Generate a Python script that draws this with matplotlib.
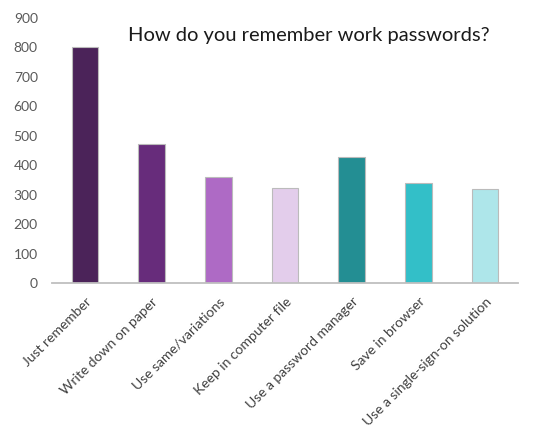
import numpy as np
import matplotlib.pyplot as plt

## Data:
categories = ['Just remember', 'Write down on paper', 'Use same/variations',
              'Keep in computer file', 'Use a password manager', 'Save in browser',
              'Use a single-sign-on solution']
counts = [800, 471, 360, 324, 427, 340, 318]
bar_colors = ['#4B2359', '#672C7B', '#AE6AC5', '#E3CDEB', '#238E93', '#33BFC8', '#AEE6EA']
y_ticks = list(range(0, 1000, 100))

plt.rcParams['font.family'] = ['Lato', 'DejaVu Sans']

fig = plt.figure(figsize=(5.43, 4.29), dpi=100)
ax = fig.add_axes([0.0952, 0.3403, 0.8593, 0.6177])

x = np.arange(len(categories))
ax.bar(x, counts, width=0.4, color=bar_colors, edgecolor='#BBBBBB', linewidth=0.8, zorder=2)

ax.set_xlim(-0.5, len(categories) - 0.5)
ax.set_ylim(0, 900)
ax.set_yticks(y_ticks)
ax.tick_params(axis='y', length=0, pad=10, labelsize=10, labelcolor='#595959')
ax.set_xticks(x)
ax.set_xticklabels(categories, rotation=45, ha='right', rotation_mode='anchor',
                   fontsize=10, color='#404040')
ax.tick_params(axis='x', length=0, pad=9)

for side in ['top', 'right', 'left']:
    ax.spines[side].set_visible(False)
ax.spines['bottom'].set_color('#BFBFBF')
ax.spines['bottom'].set_linewidth(1.3)

fig.text(0.236, 0.918, 'How do you remember work passwords?', fontsize=14.5,
         color='#1a1a1a', ha='left', va='center')

fig.savefig('out.png', dpi=100)
